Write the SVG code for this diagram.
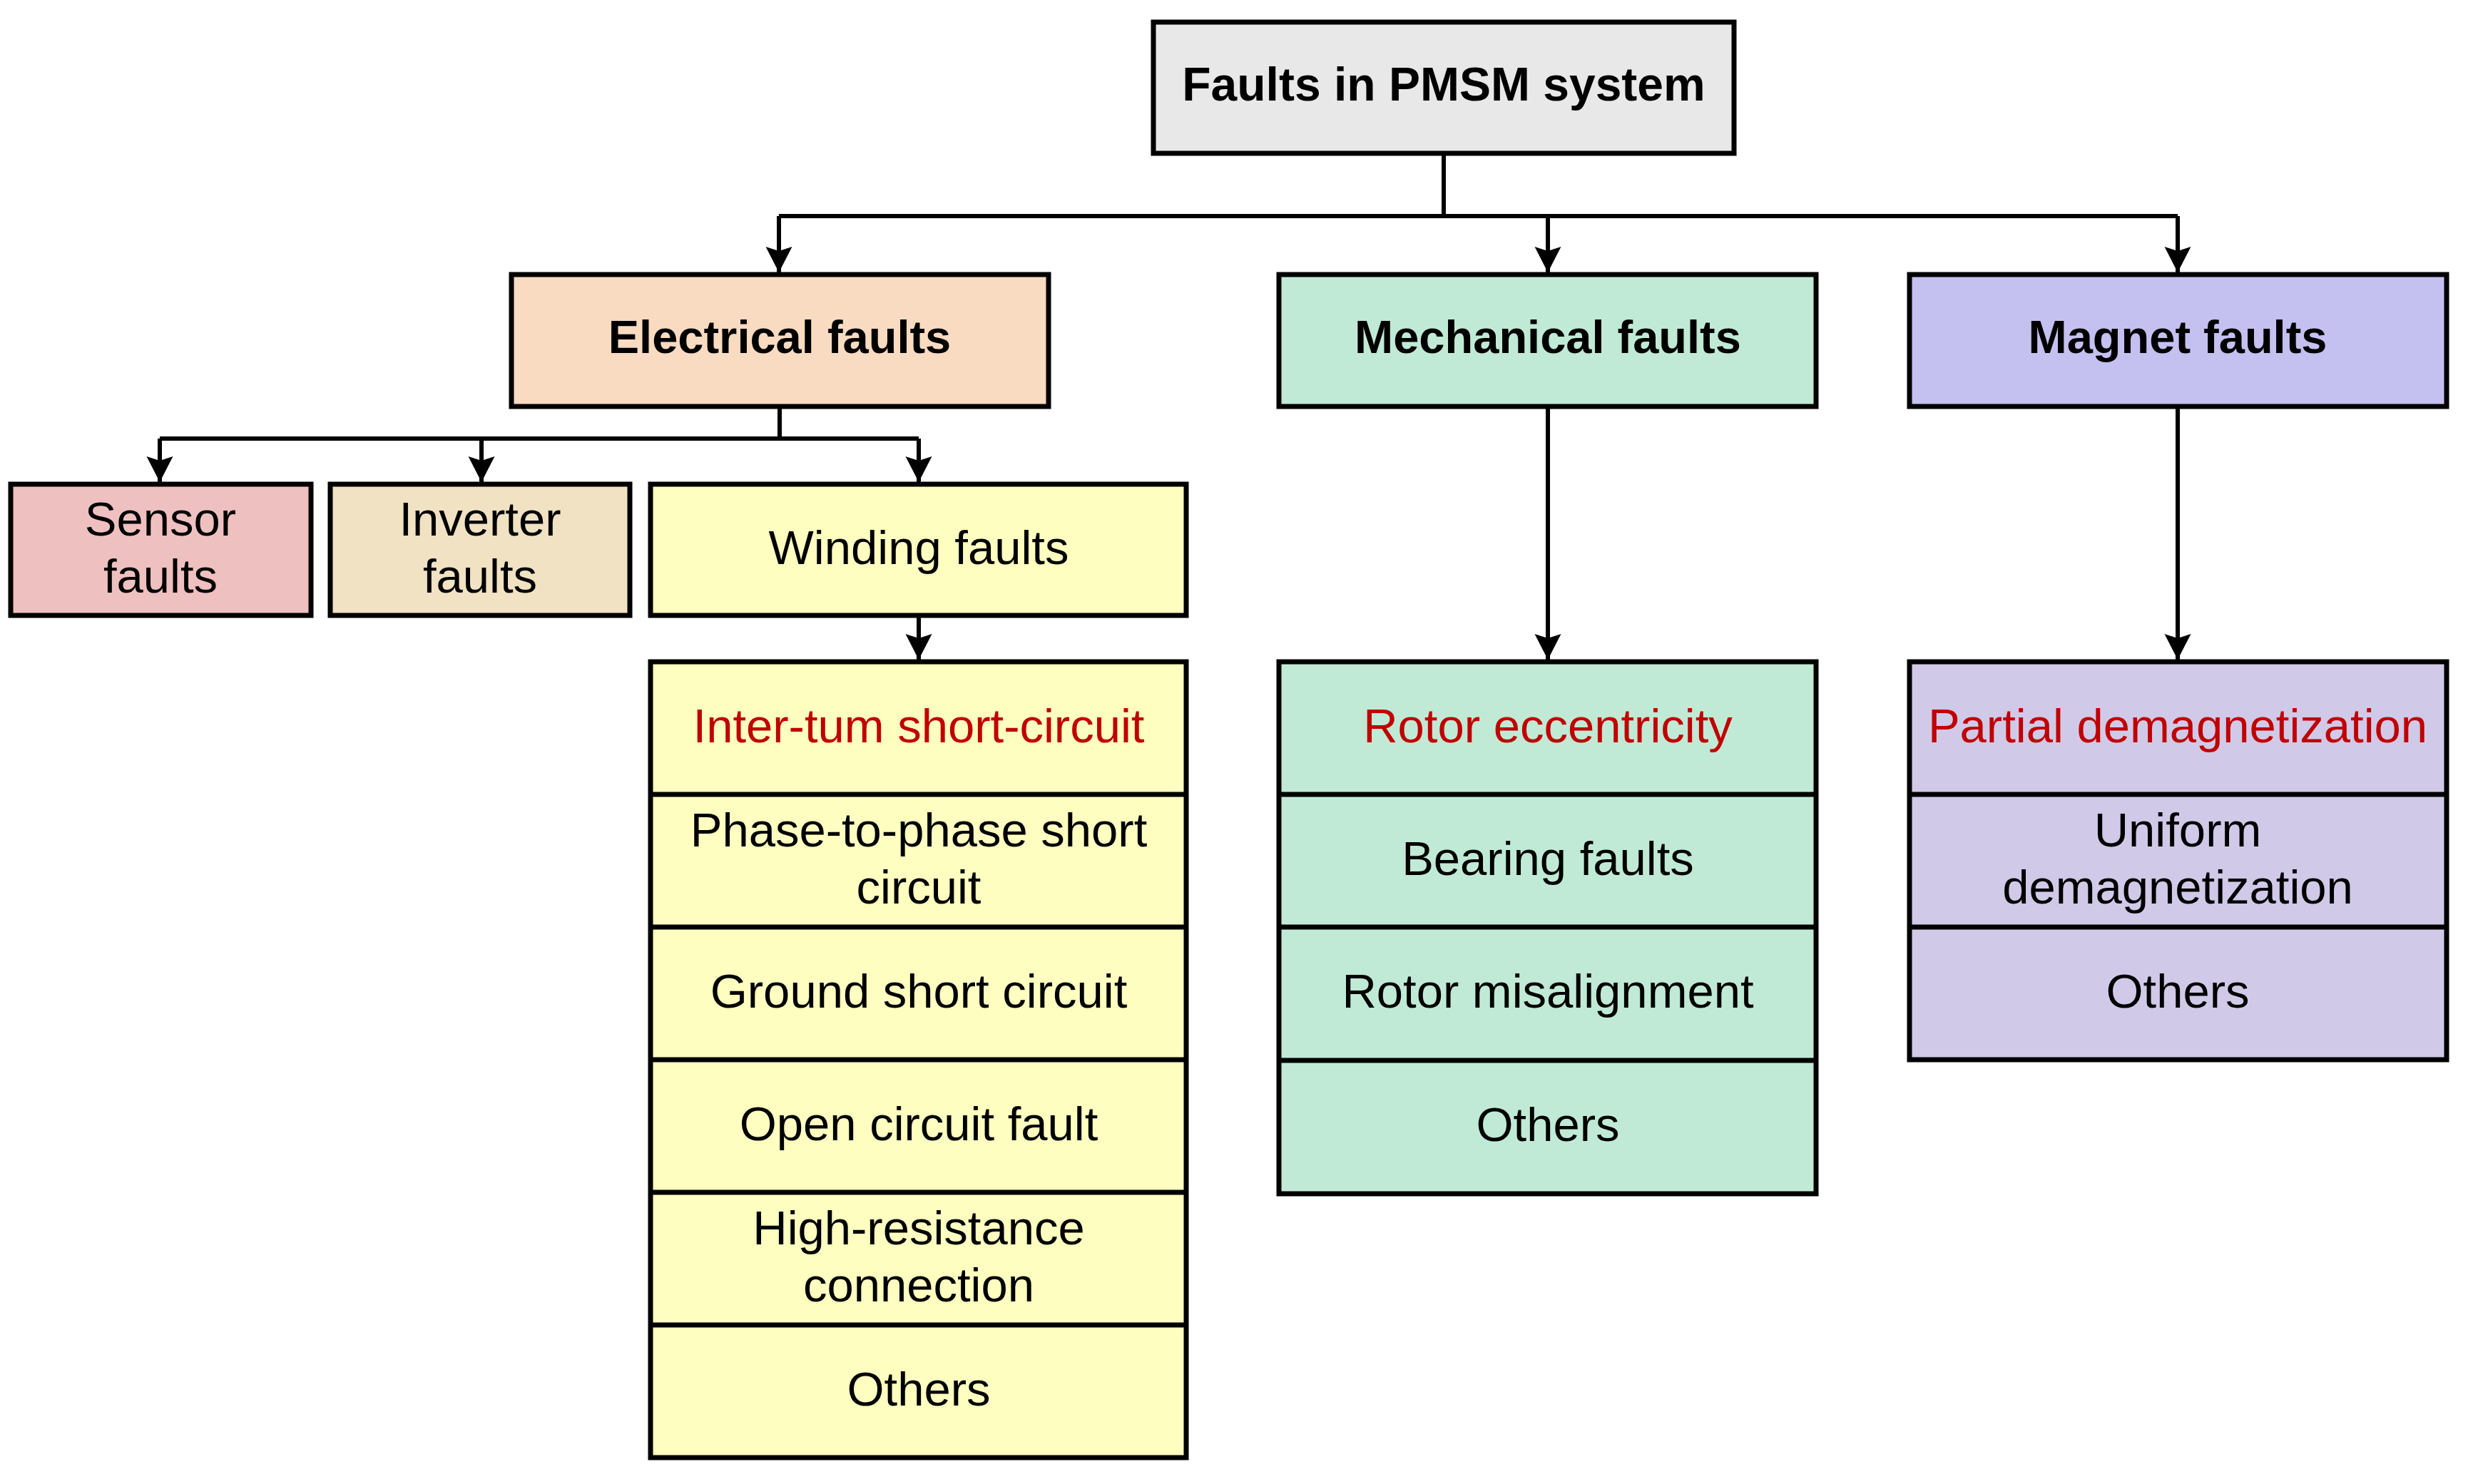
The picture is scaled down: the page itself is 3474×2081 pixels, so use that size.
<svg xmlns="http://www.w3.org/2000/svg" width="3474" height="2081" viewBox="0 0 3474 2081">
<style>
.box{stroke:#000;stroke-width:7;stroke-linejoin:miter}
.sep{stroke:#000;stroke-width:7}
.con{stroke:#000;stroke-width:6;fill:none}
.b{font-family:"Liberation Sans",Arial,sans-serif;font-weight:bold;font-size:65px;text-anchor:middle;fill:#000}
.r{font-family:"Liberation Sans",Arial,sans-serif;font-size:67px;text-anchor:middle;fill:#000}
.red{fill:#c00000}
</style>
<defs>
<marker id="arr" markerUnits="userSpaceOnUse" markerWidth="40" markerHeight="40" refX="36" refY="18.5" orient="auto" viewBox="0 0 40 40">
<path d="M0,0 L36,18.5 L0,37 L6,18.5 z" fill="#000"/>
</marker>
</defs>
<rect width="3474" height="2081" fill="#fff"/>
<g id="connectors">
<polyline class="con" points="2024,215 2024,303"/>
<polyline class="con" points="1092,303 3053,303"/>
<line class="con" x1="1092" y1="303" x2="1092" y2="382" marker-end="url(#arr)"/>
<line class="con" x1="2170" y1="303" x2="2170" y2="382" marker-end="url(#arr)"/>
<line class="con" x1="3053" y1="303" x2="3053" y2="382" marker-end="url(#arr)"/>
<polyline class="con" points="1093,570 1093,615"/>
<polyline class="con" points="224,615 1288,615"/>
<line class="con" x1="224" y1="615" x2="224" y2="676" marker-end="url(#arr)"/>
<line class="con" x1="675" y1="615" x2="675" y2="676" marker-end="url(#arr)"/>
<line class="con" x1="1288" y1="615" x2="1288" y2="676" marker-end="url(#arr)"/>
<line class="con" x1="1288" y1="863" x2="1288" y2="925" marker-end="url(#arr)"/>
<line class="con" x1="2170" y1="570" x2="2170" y2="925" marker-end="url(#arr)"/>
<line class="con" x1="3053" y1="570" x2="3053" y2="925" marker-end="url(#arr)"/>
</g>
<g id="root">
<rect class="box" x="1617" y="31" width="814" height="184" fill="#e8e8e8"/>
<text class="b" x="2024" y="141" style="font-size:66px">Faults in PMSM system</text>
</g>
<g id="electrical">
<rect class="box" x="717" y="385" width="753" height="185" fill="#f9dbc2"/>
<text class="b" x="1093" y="495">Electrical faults</text>
</g>
<g id="mechanical">
<rect class="box" x="1793" y="385" width="753" height="185" fill="#c0ead5"/>
<text class="b" x="2170" y="495">Mechanical faults</text>
</g>
<g id="magnet">
<rect class="box" x="2677" y="385" width="753" height="185" fill="#c4c0f0"/>
<text class="b" x="3053" y="495">Magnet faults</text>
</g>
<g id="sensor">
<rect class="box" x="15" y="679" width="421" height="184" fill="#efc0c0"/>
<text class="r" x="225" y="751">Sensor</text>
<text class="r" x="225" y="831">faults</text>
</g>
<g id="inverter">
<rect class="box" x="463" y="679" width="420" height="184" fill="#f0e2c2"/>
<text class="r" x="673" y="751">Inverter</text>
<text class="r" x="673" y="831">faults</text>
</g>
<g id="winding">
<rect class="box" x="912" y="679" width="751" height="184" fill="#fefec0"/>
<text class="r" x="1288" y="791">Winding faults</text>
</g>
<g id="winding-list">
<rect class="box" x="912" y="928" width="751" height="1116" fill="#fefec0"/>
<line class="sep" x1="912" y1="1114" x2="1663" y2="1114"/>
<line class="sep" x1="912" y1="1300" x2="1663" y2="1300"/>
<line class="sep" x1="912" y1="1486" x2="1663" y2="1486"/>
<line class="sep" x1="912" y1="1672" x2="1663" y2="1672"/>
<line class="sep" x1="912" y1="1858" x2="1663" y2="1858"/>
<text class="r red" x="1288" y="1041">Inter-tum short-circuit</text>
<text class="r" x="1288" y="1187">Phase-to-phase short</text>
<text class="r" x="1288" y="1267">circuit</text>
<text class="r" x="1288" y="1413">Ground short circuit</text>
<text class="r" x="1288" y="1599">Open circuit fault</text>
<text class="r" x="1288" y="1745">High-resistance</text>
<text class="r" x="1288" y="1825">connection</text>
<text class="r" x="1288" y="1971">Others</text>
</g>
<g id="mechanical-list">
<rect class="box" x="1793" y="928" width="753" height="746" fill="#c0ead5"/>
<line class="sep" x1="1793" y1="1114" x2="2546" y2="1114"/>
<line class="sep" x1="1793" y1="1300" x2="2546" y2="1300"/>
<line class="sep" x1="1793" y1="1487" x2="2546" y2="1487"/>
<text class="r red" x="2170" y="1041">Rotor eccentricity</text>
<text class="r" x="2170" y="1227">Bearing faults</text>
<text class="r" x="2170" y="1413">Rotor misalignment</text>
<text class="r" x="2170" y="1600">Others</text>
</g>
<g id="magnet-list">
<rect class="box" x="2677" y="928" width="753" height="558" fill="#d0cae8"/>
<line class="sep" x1="2677" y1="1114" x2="3430" y2="1114"/>
<line class="sep" x1="2677" y1="1300" x2="3430" y2="1300"/>
<text class="r red" x="3053" y="1041">Partial demagnetization</text>
<text class="r" x="3053" y="1187">Uniform</text>
<text class="r" x="3053" y="1267">demagnetization</text>
<text class="r" x="3053" y="1413">Others</text>
</g>
</svg>
